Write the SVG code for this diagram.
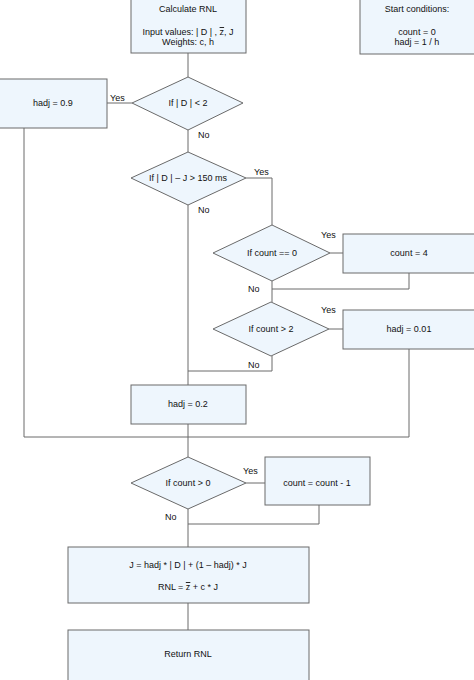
<svg xmlns="http://www.w3.org/2000/svg" width="474" height="680" viewBox="0 0 474 680">
<style>
.box{fill:#eef6fd;stroke:#6a6a6a;stroke-width:1}
.ln{fill:none;stroke:#6a6a6a;stroke-width:1}
text{font-family:"Liberation Sans",Arial,sans-serif;font-size:9px;fill:#111}
.c{text-anchor:middle}
</style>
<rect width="474" height="680" fill="#ffffff"/>
<g id="connectors">
<path class="ln" d="M188,53V77"/>
<path class="ln" d="M132,103H107"/>
<path class="ln" d="M24,128V437H409"/>
<path class="ln" d="M188,130V152"/>
<path class="ln" d="M246,178H272V225"/>
<path class="ln" d="M188,205V385"/>
<path class="ln" d="M330,253H343"/>
<path class="ln" d="M409,273V289H272"/>
<path class="ln" d="M272,281V302"/>
<path class="ln" d="M329,329H343"/>
<path class="ln" d="M409,349V437"/>
<path class="ln" d="M272,356V371H188"/>
<path class="ln" d="M188,424V457"/>
<path class="ln" d="M246,483H265"/>
<path class="ln" d="M319,505V524H188"/>
<path class="ln" d="M188,509V547"/>
<path class="ln" d="M188,603V630"/>
</g>
<g id="labels">
<text x="110" y="101">Yes</text>
<text x="198" y="138">No</text>
<text x="254" y="175">Yes</text>
<text x="198" y="213">No</text>
<text x="321" y="238">Yes</text>
<text x="248" y="292">No</text>
<text x="321" y="313">Yes</text>
<text x="248" y="368">No</text>
<text x="243" y="474">Yes</text>
<text x="165" y="520">No</text>
</g>
<g id="calc">
<rect class="box" x="131" y="-2" width="115" height="55"/>
<text class="c" x="188" y="12">Calculate RNL</text>
<text class="c" x="188" y="35">Input values: | D | , <tspan style="text-decoration:overline">z</tspan>, J</text>
<text class="c" x="188" y="45">Weights: c, h</text>
</g>
<g id="start">
<rect class="box" x="360" y="-2" width="116" height="56"/>
<text class="c" x="417" y="12">Start conditions:</text>
<text class="c" x="417" y="35">count = 0</text>
<text class="c" x="417" y="45">hadj = 1 / h</text>
</g>
<g id="d1">
<polygon class="box" points="188,77 243,103 188,130 132,103"/>
<text class="c" x="188" y="106">If | D | &lt; 2</text>
</g>
<g id="h09">
<rect class="box" x="-1" y="79" width="108" height="49"/>
<text class="c" x="53" y="106">hadj = 0.9</text>
</g>
<g id="d2">
<polygon class="box" points="188,152 246,178 188,205 131,178"/>
<text class="c" x="188" y="181">If | D | – J &gt; 150 ms</text>
</g>
<g id="d3">
<polygon class="box" points="272,225 330,253 272,281 213,253"/>
<text class="c" x="272" y="256">If count == 0</text>
</g>
<g id="c4">
<rect class="box" x="343" y="234" width="133" height="39"/>
<text class="c" x="409" y="256">count = 4</text>
</g>
<g id="d4">
<polygon class="box" points="271,302 329,329 271,356 213,329"/>
<text class="c" x="271" y="332">If count &gt; 2</text>
</g>
<g id="h001">
<rect class="box" x="343" y="310" width="133" height="39"/>
<text class="c" x="409" y="332">hadj = 0.01</text>
</g>
<g id="h02">
<rect class="box" x="131" y="385" width="115" height="39"/>
<text class="c" x="188" y="407">hadj = 0.2</text>
</g>
<g id="d5">
<polygon class="box" points="188,457 246,483 188,509 131,483"/>
<text class="c" x="188" y="486">If count &gt; 0</text>
</g>
<g id="dec">
<rect class="box" x="265" y="457" width="105" height="48"/>
<text class="c" x="317" y="486">count = count - 1</text>
</g>
<g id="formula">
<rect class="box" x="68" y="547" width="241" height="56"/>
<text class="c" x="188" y="568">J = hadj * | D | + (1 – hadj) * J</text>
<text class="c" x="188" y="590">RNL = <tspan style="text-decoration:overline">z</tspan> + c * J</text>
</g>
<g id="ret">
<rect class="box" x="68" y="630" width="241" height="55"/>
<text class="c" x="188" y="657">Return RNL</text>
</g>
</svg>
